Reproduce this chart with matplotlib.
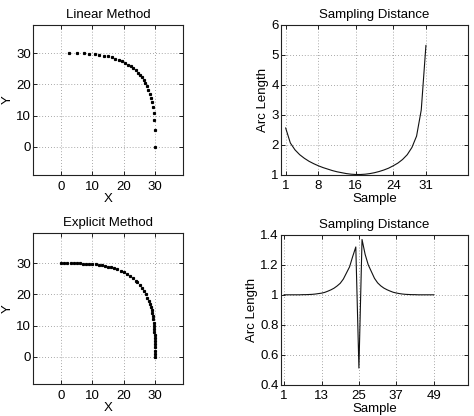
import matplotlib
matplotlib.use("Agg")
import matplotlib.pyplot as plt

plt.rcParams['font.family'] = ['Liberation Sans', 'DejaVu Sans']
plt.rcParams['font.size'] = 9.5

# ---- Linear method: curve sample points ----
linear_x = [2.61, 5.16, 7.21, 9.03, 10.68, 12.21, 13.63, 14.96, 16.21, 17.38,
            18.49, 19.52, 20.49, 21.40, 22.25, 23.06, 23.80, 24.51, 25.17, 25.80,
            26.39, 26.95, 27.47, 27.93, 28.37, 28.76, 29.11, 29.40, 29.64, 29.83,
            29.97, 30.00]
linear_y = [30.00, 29.97, 29.90, 29.80, 29.65, 29.46, 29.23, 28.95, 28.62, 28.25,
            27.83, 27.39, 26.89, 26.34, 25.77, 25.15, 24.49, 23.78, 23.03, 22.21,
            21.33, 20.38, 19.35, 18.24, 17.02, 15.70, 14.24, 12.62, 10.72, 8.45,
            5.30, 0.00]

# ---- Linear method: sampling distance ----
linear_arc = [2.55, 2.05, 1.82, 1.66, 1.54, 1.44, 1.36, 1.29, 1.23, 1.18,
              1.13, 1.09, 1.06, 1.03, 1.01, 1.00, 1.00, 1.01, 1.03, 1.06,
              1.10, 1.15, 1.21, 1.29, 1.38, 1.50, 1.66, 1.90, 2.28, 3.15,
              5.30]

# ---- Explicit method: curve sample points ----
explicit_x = [0, 1, 2, 3, 4, 5, 6, 7, 8, 9, 10, 11, 12, 13, 14, 15, 16, 17, 18, 19,
              20, 21, 22, 23, 24,
              24.31, 25.20, 25.96, 26.60, 27.16, 27.63, 28.03, 28.38, 28.68, 28.94,
              29.16, 29.34, 29.49, 29.62, 29.72, 29.80, 29.86, 29.91, 29.95, 29.97,
              29.99, 29.99, 30.00, 30.00, 30.00]
explicit_y = [30.00, 30.00, 30.00, 29.99, 29.99, 29.97, 29.95, 29.91, 29.86, 29.80,
              29.72, 29.62, 29.49, 29.34, 29.16, 28.94, 28.68, 28.38, 28.03, 27.63,
              27.16, 26.60, 25.96, 25.20, 24.31,
              24, 23, 22, 21, 20, 19, 18, 17, 16, 15, 14, 13, 12, 11, 10,
              9, 8, 7, 6, 5, 4, 3, 2, 1, 0]

# ---- Explicit method: sampling distance ----
explicit_arc = [1.000, 1.000, 1.000, 1.000, 1.000, 1.000, 1.001, 1.001, 1.002, 1.003,
                1.005, 1.008, 1.011, 1.016, 1.024, 1.033, 1.044, 1.059, 1.077, 1.105,
                1.146, 1.187, 1.256, 1.320, 0.510, 1.370, 1.270, 1.200, 1.155, 1.110,
                1.080, 1.060, 1.045, 1.034, 1.025, 1.017, 1.012, 1.008, 1.005, 1.003,
                1.002, 1.001, 1.001, 1.000, 1.000, 1.000, 1.000, 1.000, 1.000]

xy_ticks = [0, 10, 20, 30]
lin_sample_ticks = [1, 8, 16, 24, 31]
exp_sample_ticks = [1, 13, 25, 37, 49]
lin_arc_ticks = [1, 2, 3, 4, 5, 6]
exp_arc_ticks = [0.4, 0.6, 0.8, 1.0, 1.2, 1.4]
exp_arc_labels = ['0.4', '0.6', '0.8', '1', '1.2', '1.4']

W, H = 474, 416
FS = 9.5
fig = plt.figure(figsize=(W / 100, H / 100), dpi=100)


def make_ax(l, t, r, b):
    return fig.add_axes([l / W, 1 - b / H, (r - l) / W, (b - t) / H])


def style(ax):
    ax.grid(True, linestyle=(0, (1, 2.5)), color='#8c8c8c', linewidth=0.6)
    ax.set_axisbelow(True)
    ax.tick_params(direction='in', top=True, right=True, length=3, width=0.6,
                   labelsize=FS)
    ax.tick_params(axis='y', pad=1.5)
    ax.tick_params(axis='x', pad=4)
    for s in ax.spines.values():
        s.set_linewidth(0.8)
        s.set_color('#222222')


ax1 = make_ax(33, 25, 183, 175)
ax2 = make_ax(281, 24.5, 468, 174.5)
ax3 = make_ax(33, 233, 183, 384)
ax4 = make_ax(281, 235, 468, 384.5)

# Linear method curve
ax1.plot(linear_x, linear_y, linestyle='none', marker='s', markersize=1.3,
         color='black')
ax1.set_xlim(-9, 39)
ax1.set_ylim(-9, 39)
ax1.set_xticks(xy_ticks)
ax1.set_yticks(xy_ticks)
ax1.set_title('Linear Method', fontsize=FS, pad=5)
ax1.set_xlabel('X', fontsize=FS, labelpad=0.5)
ax1.set_ylabel('Y', fontsize=FS, labelpad=2)
style(ax1)

# Linear sampling distance
ax2.plot(range(1, len(linear_arc) + 1), linear_arc, color='#111111', linewidth=0.8)
ax2.set_xlim(0, 40)
ax2.set_ylim(1, 6)
ax2.set_xticks(lin_sample_ticks)
ax2.set_yticks(lin_arc_ticks)
ax2.set_title('Sampling Distance', fontsize=FS, pad=5)
ax2.set_xlabel('Sample', fontsize=FS, labelpad=0.5)
ax2.set_ylabel('Arc Length', fontsize=FS, labelpad=2)
style(ax2)

# Explicit method curve
ax3.plot(explicit_x, explicit_y, linestyle='none', marker='s', markersize=1.3,
         color='black')
ax3.set_xlim(-9, 39)
ax3.set_ylim(-8.7, 39.7)
ax3.set_xticks(xy_ticks)
ax3.set_yticks(xy_ticks)
ax3.set_title('Explicit Method', fontsize=FS, pad=5)
ax3.set_xlabel('X', fontsize=FS, labelpad=0.5)
ax3.set_ylabel('Y', fontsize=FS, labelpad=2)
style(ax3)

# Explicit sampling distance
ax4.plot(range(1, len(explicit_arc) + 1), explicit_arc, color='#111111',
         linewidth=0.8)
ax4.set_xlim(0, 60)
ax4.set_ylim(0.4, 1.4)
ax4.set_xticks(exp_sample_ticks)
ax4.set_yticks(exp_arc_ticks)
ax4.set_yticklabels(exp_arc_labels)
ax4.set_title('Sampling Distance', fontsize=FS, pad=5)
ax4.set_xlabel('Sample', fontsize=FS, labelpad=0.5)
ax4.set_ylabel('Arc Length', fontsize=FS, labelpad=2)
style(ax4)

fig.savefig('out.png', dpi=100, facecolor='white')
